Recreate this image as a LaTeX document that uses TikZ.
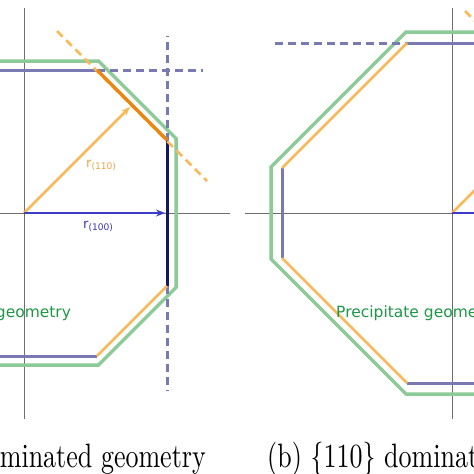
\documentclass[tikz,border=0pt]{standalone}
\usepackage{fontspec}
\newfontfamily\dv{DejaVu Sans}
\newfontfamily\capfont{lmroman10-regular}[Extension=.otf]
\usetikzlibrary{arrows.meta}
\definecolor{axisgray}{RGB}{110,110,110}
\definecolor{lav}{RGB}{122,122,178}
\definecolor{navy}{RGB}{22,22,100}
\definecolor{arrblue}{RGB}{60,60,200}
\definecolor{lorange}{RGB}{246,186,92}
\definecolor{dorange}{RGB}{232,136,18}
\definecolor{gline}{RGB}{140,202,152}
\definecolor{gtext}{RGB}{30,150,70}
\definecolor{otext}{RGB}{236,166,70}
\definecolor{btext}{RGB}{55,55,180}
\tikzset{
  axisline/.style={draw=axisgray, line width=1pt},
  outline/.style={draw=gline, line width=3.5pt, line join=miter},
  face100/.style={draw=lav, line width=3pt},
  face100dark/.style={draw=navy, line width=3pt},
  face110/.style={draw=lorange, line width=2.8pt},
  face110dark/.style={draw=dorange, line width=3.4pt},
  ext100/.style={draw=lav, line width=3pt, dash pattern=on 8pt off 5pt},
  ext110/.style={draw=lorange, line width=2.8pt, dash pattern=on 8pt off 5pt},
  vec110/.style={draw=lorange, line width=2.6pt, -{Stealth[length=9pt,width=7pt]}},
  vec100/.style={draw=arrblue, line width=2.2pt, -{Stealth[length=9pt,width=7pt]}},
  geomtext/.style={font=\dv\fontsize{15.5}{18}\selectfont, text=gtext, inner sep=0pt},
  rlabel/.style={font=\dv\fontsize{13}{15}\selectfont, inner sep=0pt},
  caption/.style={font=\capfont\fontsize{26}{30}\selectfont, inner sep=0pt}
}
\begin{document}
\begin{tikzpicture}[x=1pt,y=-1pt]
\useasboundingbox (0,0) rectangle (474,474);
\clip (0,0) rectangle (474,474);
% ---------- panel (a) ----------
\begin{scope}[shift={(24,213)}, yscale=-1]
  \coordinate (oa) at (0,0);
  \draw[axisline] (-206,0) -- (206,0);
  \draw[axisline] (0,-206) -- (0,205);
  \draw[outline] (152,-74.5) -- (152,74.5) -- (74.5,152) -- (-74.5,152) -- (-152,74.5) -- (-152,-74.5) -- (-74.5,-152) -- (74.5,-152) -- cycle;
  \draw[ext100] (73,143) -- (179,143);
  \draw[ext100] (143,72) -- (143,177);
  \draw[ext100] (143,-73) -- (143,-178);
  \draw[face100] (-73,143) -- (73,143);
  \draw[face100] (-143,-73) -- (-143,73);
  \draw[face100] (-73,-143) -- (73,-143);
  \draw[face100dark] (143,-73) -- (143,72);
  \draw[ext110] (33,182) -- (183,32);
  \draw[face110] (-73,143) -- (-143,73);
  \draw[face110] (-143,-73) -- (-73,-143);
  \draw[face110] (73,-143) -- (143,-73);
  \draw[face110dark] (73,143) -- (143,73);
  \coordinate (ta) at (106,106);
  \coordinate (sa) at (141,0);
  \draw[vec110] (oa) -- (ta);
  \draw[vec100] (oa) -- (sa);
  \node[rlabel, text=otext, anchor=base west] (la110) at (62,46) {r\textsubscript{(110)}};
  \node[rlabel, text=btext, anchor=base west] (la100) at (59,-15) {r\textsubscript{(100)}};
  \node[geomtext, anchor=base west] (ga) at (-116,-104) {Precipitate geometry};
\end{scope}
% ---------- panel (b) ----------
\begin{scope}[shift={(452,213)}, yscale=-1]
  \coordinate (ob) at (0,0);
  \draw[axisline] (-207,0) -- (206,0);
  \draw[axisline] (0,-206) -- (0,205);
  \draw[outline] (181,-46) -- (181,46) -- (46,181) -- (-46,181) -- (-181,46) -- (-181,-46) -- (-46,-181) -- (46,-181) -- cycle;
  \draw[ext100] (-177,170) -- (-45,170);
  \draw[ext100] (45,170) -- (177,170);
  \draw[face100] (-45,170) -- (45,170);
  \draw[face100] (-170,-45) -- (-170,45);
  \draw[face100] (-45,-170) -- (45,-170);
  \draw[face100dark] (170,-45) -- (170,45);
  \draw[ext110] (13,202) -- (202,13);
  \draw[face110] (-45,170) -- (-170,45);
  \draw[face110] (-170,-45) -- (-45,-170);
  \draw[face110] (45,-170) -- (170,-45);
  \draw[face110dark] (45,170) -- (170,45);
  \coordinate (tb) at (100,100);
  \coordinate (sb) at (168,0);
  \draw[vec110] (ob) -- (tb);
  \draw[vec100] (ob) -- (sb);
  \node[geomtext, anchor=base west] (gb) at (-116,-104) {Precipitate geometry};
\end{scope}
% ---------- captions ----------
\node[caption, anchor=base east] (capa) at (206,467) {\scalebox{1}[1.3]{(a) \{100\} dominated geometry}};
\node[caption, anchor=base west] (capb) at (267,467) {\scalebox{1}[1.3]{(b) \{110\} dominated geometry}};
\end{tikzpicture}
\end{document}
